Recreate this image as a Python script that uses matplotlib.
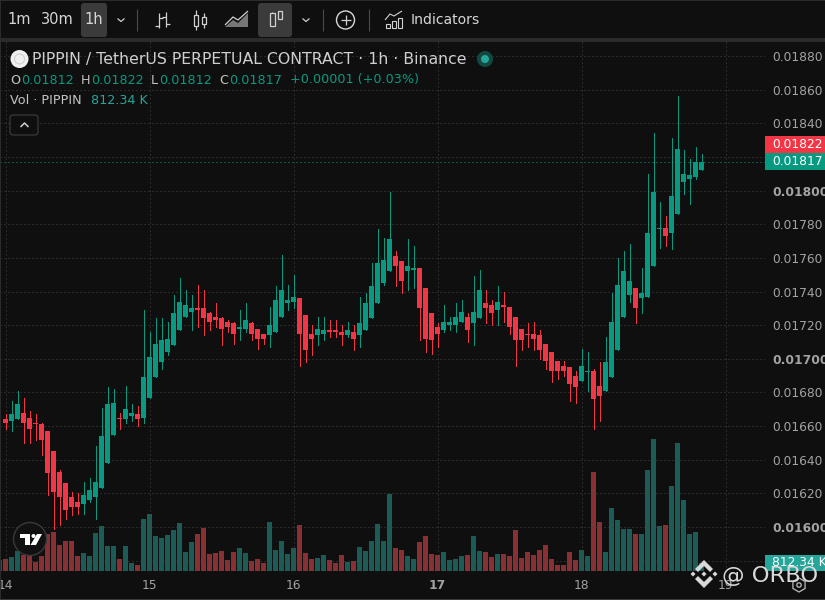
import numpy as np
import matplotlib
matplotlib.use("Agg")
import matplotlib.pyplot as plt
from matplotlib.patches import Circle, FancyBboxPatch, Polygon, Rectangle

# --- datos (precio en 1e-5 USDT, volumen en miles) ---
opens = [1664, 1663, 1664, 1668, 1665, 1662, 1661, 1657, 1645, 1633,
         1626, 1618, 1615, 1614, 1616, 1618, 1623, 1638, 1655, 1665,
         1664, 1666, 1667, 1665, 1677, 1689, 1698, 1704, 1708, 1717,
         1725, 1728, 1730, 1730, 1727, 1725, 1724, 1722, 1721, 1718,
         1718, 1721, 1718, 1715, 1714, 1716, 1725, 1733, 1734, 1736,
         1726, 1715, 1714, 1715, 1717, 1717, 1716, 1714, 1716, 1714,
         1717, 1724, 1733, 1745, 1752, 1761, 1758, 1752, 1753, 1754,
         1742, 1727, 1719, 1717, 1720, 1720, 1722, 1725, 1721, 1724,
         1733, 1732, 1729, 1732, 1731, 1725, 1718, 1715, 1715, 1714,
         1709, 1704, 1699, 1696, 1695, 1690, 1687, 1692, 1693, 1684,
         1681, 1689, 1705, 1725, 1738, 1742, 1736, 1737, 1755, 1777,
         1778, 1775, 1786, 1805, 1807, 1808, 1812]
highs = [1667, 1675, 1681, 1677, 1669, 1667, 1662, 1657, 1645, 1634,
         1626, 1621, 1620, 1627, 1629, 1648, 1671, 1683, 1682, 1668,
         1684, 1673, 1672, 1729, 1716, 1724, 1724, 1722, 1738, 1748,
         1741, 1738, 1744, 1741, 1728, 1733, 1725, 1723, 1722, 1729,
         1733, 1722, 1718, 1715, 1731, 1743, 1762, 1744, 1750, 1736,
         1726, 1720, 1725, 1725, 1723, 1723, 1720, 1722, 1720, 1737,
         1739, 1757, 1777, 1772, 1799, 1764, 1758, 1771, 1767, 1754,
         1742, 1727, 1721, 1732, 1725, 1733, 1735, 1727, 1749, 1753,
         1741, 1735, 1743, 1740, 1731, 1725, 1718, 1721, 1722, 1717,
         1709, 1704, 1699, 1699, 1695, 1693, 1706, 1704, 1694, 1698,
         1713, 1739, 1760, 1764, 1768, 1742, 1754, 1810, 1834, 1793,
         1785, 1831, 1856, 1824, 1819, 1826, 1822]
lows = [1658, 1657, 1664, 1650, 1650, 1652, 1643, 1619, 1599, 1601,
        1605, 1607, 1608, 1608, 1615, 1605, 1623, 1638, 1655, 1658,
        1662, 1663, 1660, 1662, 1677, 1689, 1694, 1702, 1708, 1717,
        1725, 1717, 1719, 1714, 1717, 1719, 1708, 1716, 1709, 1711,
        1716, 1711, 1706, 1709, 1707, 1716, 1725, 1729, 1730, 1696,
        1698, 1702, 1708, 1711, 1713, 1713, 1708, 1713, 1705, 1707,
        1717, 1724, 1733, 1744, 1752, 1743, 1739, 1741, 1742, 1711,
        1704, 1703, 1707, 1716, 1717, 1716, 1722, 1710, 1708, 1724,
        1721, 1720, 1720, 1722, 1715, 1696, 1705, 1707, 1705, 1700,
        1694, 1686, 1688, 1690, 1675, 1674, 1687, 1681, 1658, 1663,
        1681, 1689, 1705, 1725, 1734, 1721, 1727, 1737, 1755, 1766,
        1767, 1765, 1786, 1798, 1792, 1807, 1812]
closes = [1662, 1667, 1673, 1662, 1658, 1661, 1652, 1632, 1621, 1618,
          1610, 1612, 1612, 1619, 1622, 1627, 1654, 1673, 1674, 1664,
          1670, 1668, 1664, 1689, 1701, 1709, 1711, 1712, 1727, 1734,
          1732, 1730, 1729, 1724, 1722, 1723, 1718, 1719, 1715, 1718,
          1723, 1715, 1712, 1712, 1720, 1735, 1741, 1735, 1737, 1715,
          1705, 1712, 1718, 1717, 1716, 1716, 1714, 1717, 1712, 1721,
          1733, 1743, 1757, 1759, 1771, 1755, 1746, 1755, 1754, 1730,
          1712, 1711, 1715, 1722, 1722, 1725, 1728, 1717, 1728, 1741,
          1730, 1727, 1734, 1731, 1719, 1711, 1711, 1714, 1712, 1705,
          1699, 1693, 1693, 1693, 1685, 1683, 1696, 1693, 1676, 1678,
          1698, 1722, 1744, 1752, 1746, 1730, 1739, 1775, 1799, 1778,
          1773, 1797, 1825, 1810, 1809, 1817, 1817]
volumes = [1219, 1422, 2031, 1625, 1625, 914, 1523, 3757, 3960, 2640,
           3047, 3047, 1523, 1828, 1523, 3859, 4570, 2539, 2539, 1219,
           2539, 812, 609, 5281, 5788, 3554, 3351, 3656, 4164, 4874,
           1929, 2945, 3757, 4367, 1726, 1828, 2031, 1117, 1929, 2336,
           1828, 1016, 1219, 812, 4976, 2133, 3047, 1726, 2336, 4671,
           1828, 1219, 1320, 1625, 1117, 812, 1625, 914, 1016, 2437,
           2031, 3047, 4773, 3047, 7819, 2336, 2133, 1523, 1219, 2945,
           3554, 1726, 1625, 1929, 1117, 1219, 1523, 1625, 3554, 2031,
           1929, 1422, 1726, 1726, 1523, 4164, 1320, 1929, 1625, 2133,
           2640, 1219, 609, 609, 1929, 1117, 2133, 1523, 10053, 4976,
           1929, 6398, 5179, 4265, 4265, 3757, 3757, 10257, 13405, 4570,
           4671, 8632, 12998, 7210, 3757, 3960, 812]
vol_before = 1117  # la barra cortada en el borde izquierdo
day_ticks = [0, 24, 48, 72, 96, 120]
day_labels = ["14", "15", "16", "17", "18", "19"]
price_ticks = [p / 1e5 for p in range(1580, 1881, 20)]
bold_prices = [1600, 1700, 1800]
hidden_prices = [1580, 1820]  # quedan tapados por las etiquetas de colores

BG = "#0f0f0f"
GREEN = "#089981"
RED = "#f23645"
VOL_GREEN = "#1c5c56"
VOL_RED = "#883033"
TEAL = "#26a69a"
GRID = "#464646"
TXT = "#d6d6d6"
AXTXT = "#a3a3a3"

W, H = 825, 600
fig = plt.figure(figsize=(W / 100, H / 100), dpi=100, facecolor=BG)
plt.rcParams["font.family"] = "DejaVu Sans"

rect = [0, (H - 571) / H, 765 / W, 530 / H]
xlim = (-5.5 / 6, (765 - 5.5) / 6)

# --- volumen (eje propio, mismo recuadro) ---
o = np.array(opens) / 1e5
h = np.array(highs) / 1e5
l = np.array(lows) / 1e5
c = np.array(closes) / 1e5
x = np.arange(len(o))
up = c >= o

ax_vol = fig.add_axes(rect, zorder=1, facecolor=BG)
ax_vol.bar(x, volumes, width=5 / 6, color=[VOL_GREEN if u else VOL_RED for u in up])
ax_vol.bar([-1], [vol_before], width=5 / 6, color=VOL_GREEN)
ax_vol.set_xlim(xlim)
ax_vol.set_ylim(0, 53821)
ax_vol.axis("off")

# --- velas ---
ax = fig.add_axes(rect, zorder=2)
ax.patch.set_visible(False)
colors = [GREEN if u else RED for u in up]
ax.vlines(x, l, h, colors=colors, linewidth=0.72, antialiased=False, zorder=3)
body = np.maximum(np.abs(c - o), 1e-5)
ax.bar(x, body, bottom=np.minimum(o, c), width=5 / 6, color=colors, zorder=4)

ax.set_xlim(xlim)
ax.set_ylim(0.015739, 0.018889)
ax.set_xticks(day_ticks)
ax.set_xticklabels(day_labels)
ax.set_yticks(price_ticks)
ax.set_yticklabels(["" if round(p * 1e5) in hidden_prices else f"{p:.5f}" for p in price_ticks])
ax.yaxis.tick_right()
ax.tick_params(axis="y", length=0, pad=5, labelsize=8.8, labelcolor=AXTXT)
ax.tick_params(axis="x", length=0, pad=5.5, labelsize=8.8, labelcolor=AXTXT)
for lab, p in zip(ax.get_yticklabels(), price_ticks):
    if round(p * 1e5) in bold_prices:
        lab.set_fontweight("bold")
ax.get_xticklabels()[3].set_fontweight("bold")
ax.grid(True, color=GRID, linewidth=0.72, linestyle=(0, (1, 3)), zorder=0)
ax.set_axisbelow(True)
for s in ax.spines.values():
    s.set_visible(False)
ax.axhline(c[-1], color=GREEN, linewidth=0.72, linestyle=(0, (1, 3)), zorder=2)

# --- interfaz: barra de arriba, leyenda, etiquetas (coordenadas en pixeles) ---
ui = fig.add_axes([0, 0, 1, 1], zorder=5)
ui.set_xlim(0, W)
ui.set_ylim(H, 0)
ui.axis("off")


def txt(px, py, s, color=TXT, size=9.4, ha="left", **kw):
    ui.text(px, py, s, color=color, fontsize=size, ha=ha, va="center", **kw)


def seg(xs, ys, color="#d0d0d0", lw=0.9):
    ui.plot(xs, ys, color=color, linewidth=lw, solid_capstyle="butt")


def box(x0, y0, x1, y1, **kw):
    ui.add_patch(Rectangle((x0, y0), x1 - x0, y1 - y0, linewidth=0, **kw))


def rbox(x0, y0, x1, y1, face, edge="none"):
    ui.add_patch(FancyBboxPatch((x0 + 3, y0 + 3), x1 - x0 - 6, y1 - y0 - 6,
                                boxstyle="round,pad=3", facecolor=face, edgecolor=edge, linewidth=0.8))


box(0, 0, W, 39, facecolor=BG)
box(0, 38, W, 42, facecolor="#2b2b2b")
box(0, 0, W, 1, facecolor="#2b2b2b")
box(0, 0, 1, H, facecolor="#2b2b2b")
box(0, 598.5, W, H, facecolor="#3a3a3a")

rbox(81, 3, 107, 37, "#3b3b3b")
rbox(258, 3, 292, 37, "#3b3b3b")
txt(19, 20, "1m", ha="center", size=10.5)
txt(57.5, 20, "30m", ha="center", size=10.5)
txt(94, 20, "1h", ha="center", size=10.5)
for cx in (121, 306):
    seg([cx - 3.5, cx, cx + 3.5], [18.5, 21.5, 18.5], lw=0.9)
for sx in (137, 323, 369):
    seg([sx, sx], [9, 31], color="#4a4a4a", lw=0.8)

# iconos: barras, velas, area, velas seleccionadas, +, indicadores
seg([159, 159], [13, 28])
seg([154.5, 159], [26, 26])
seg([159, 163], [18, 18])
seg([166, 166], [12, 27])
seg([162, 166], [17, 17])
seg([166, 170], [24, 24])
for bx, y0, y1, w0, w1 in ((196, 15, 26, 10, 30), (204, 17, 24, 13, 28)):
    seg([bx, bx], [w0, y0])
    seg([bx, bx], [y1, w1])
    ui.add_patch(Rectangle((bx - 2, y0), 4, y1 - y0, fill=False, edgecolor="#d0d0d0", linewidth=0.9))
ui.add_patch(Polygon([(225, 27), (233, 20), (238, 23), (248, 13), (248, 27)], facecolor="#777777", edgecolor="none"))
seg([225, 233, 238, 248], [25, 17, 20, 11])
seg([272, 272], [12, 13])
ui.add_patch(Rectangle((270, 13), 5, 13, fill=False, edgecolor="#d0d0d0", linewidth=0.9))
ui.add_patch(Rectangle((277.5, 11), 4, 8, fill=False, edgecolor="#d0d0d0", linewidth=0.9))
ui.add_patch(Circle((345.5, 20), 9, fill=False, edgecolor="#d8d8d8", linewidth=1))
seg([340.5, 350.5], [20, 20])
seg([345.5, 345.5], [15, 25])
for bx, y0 in ((385.5, 24), (391.5, 21), (397.5, 18)):
    ui.add_patch(Rectangle((bx, y0), 4.5, 28 - y0, fill=False, edgecolor="#d0d0d0", linewidth=0.8))
seg([385, 390, 394, 402], [20, 14, 16, 11], lw=0.8)
txt(411, 20, "Indicators", size=10.1)

# leyenda
ui.add_patch(Circle((19.5, 59), 9, facecolor="#f0f0f0", edgecolor="none"))
ui.add_patch(Circle((19.5, 59), 5, fill=False, edgecolor="#c8c8c8", linewidth=0.6))
txt(32, 59.5, "PIPPIN / TetherUS PERPETUAL CONTRACT · 1h · Binance", color="#cfcfcf", size=11.35)
ui.add_patch(Circle((485, 59), 8, facecolor="#134840", edgecolor="none"))
ui.add_patch(Circle((485, 59), 4, facecolor=TEAL, edgecolor="none"))
for px, s in ((10, "O"), (81, "H"), (151, "L"), (219, "C")):
    txt(px, 80, s, color="#c4c4c4", size=9.2)
for px, s in ((21, "0.01812"), (91, "0.01822"), (159, "0.01812"), (229, "0.01817"),
              (290, "+0.00001 (+0.03%)")):
    txt(px, 80, s, color=GREEN, size=9.2)
txt(10, 100, "Vol · PIPPIN", color="#c4c4c4", size=9.2)
txt(91, 100, "812.34 K", color=TEAL, size=9.2)
rbox(10, 115, 38, 135, BG, edge="#3f3f3f")
seg([20.5, 24.5, 28.5], [127, 123, 127], lw=1.1)

# etiquetas de precio en el eje
box(765, 136, W, 153, facecolor=RED)
box(765, 153, W, 170, facecolor=GREEN)
box(765, 555, W, 571, facecolor=TEAL)
txt(772, 144.5, "0.01822", color="#ffffff", size=8.8)
txt(772, 161.5, "0.01817", color="#ffffff", size=8.8)
txt(772, 563, "812.34 K", color="#ffffff", size=8.8)

# logo TV
ui.add_patch(Circle((30, 539), 16.5, facecolor="#111111", edgecolor="#3a3a3a", linewidth=1))
ui.add_patch(Polygon([(20, 534), (30, 534), (30, 545), (25, 545), (25, 538), (20, 538)], facecolor="white"))
ui.add_patch(Circle((33.5, 536), 2, facecolor="white"))
ui.add_patch(Polygon([(37, 534), (42, 534), (36, 545), (30.5, 545)], facecolor="white"))

# engranaje y marca de agua
hexa = [(799 + 7 * np.cos(a), 585 + 7 * np.sin(a)) for a in np.deg2rad(np.arange(30, 390, 60))]
ui.add_patch(Polygon(hexa, fill=False, edgecolor="#bdbdbd", linewidth=0.9))
ui.add_patch(Circle((799, 585), 2.2, fill=False, edgecolor="#bdbdbd", linewidth=0.9))
MARK = "#d9d9d9"


def rombo(cx, cy, r):
    ui.add_patch(Polygon([(cx - r, cy), (cx, cy - r), (cx + r, cy), (cx, cy + r)], facecolor=MARK, edgecolor="none"))


rombo(704, 574, 2.5)
rombo(693, 574, 2.5)
rombo(715, 574, 2.5)
ui.add_patch(Polygon([(704, 560), (713, 569), (710, 572), (704, 566), (698, 572), (695, 569)], facecolor=MARK))
ui.add_patch(Polygon([(704, 588), (713, 579), (710, 576), (704, 582), (698, 576), (695, 579)], facecolor=MARK))
txt(722, 575.5, "@ ORBO", color=MARK, size=16.2)

fig.savefig("out.png", dpi=100, facecolor=BG)
